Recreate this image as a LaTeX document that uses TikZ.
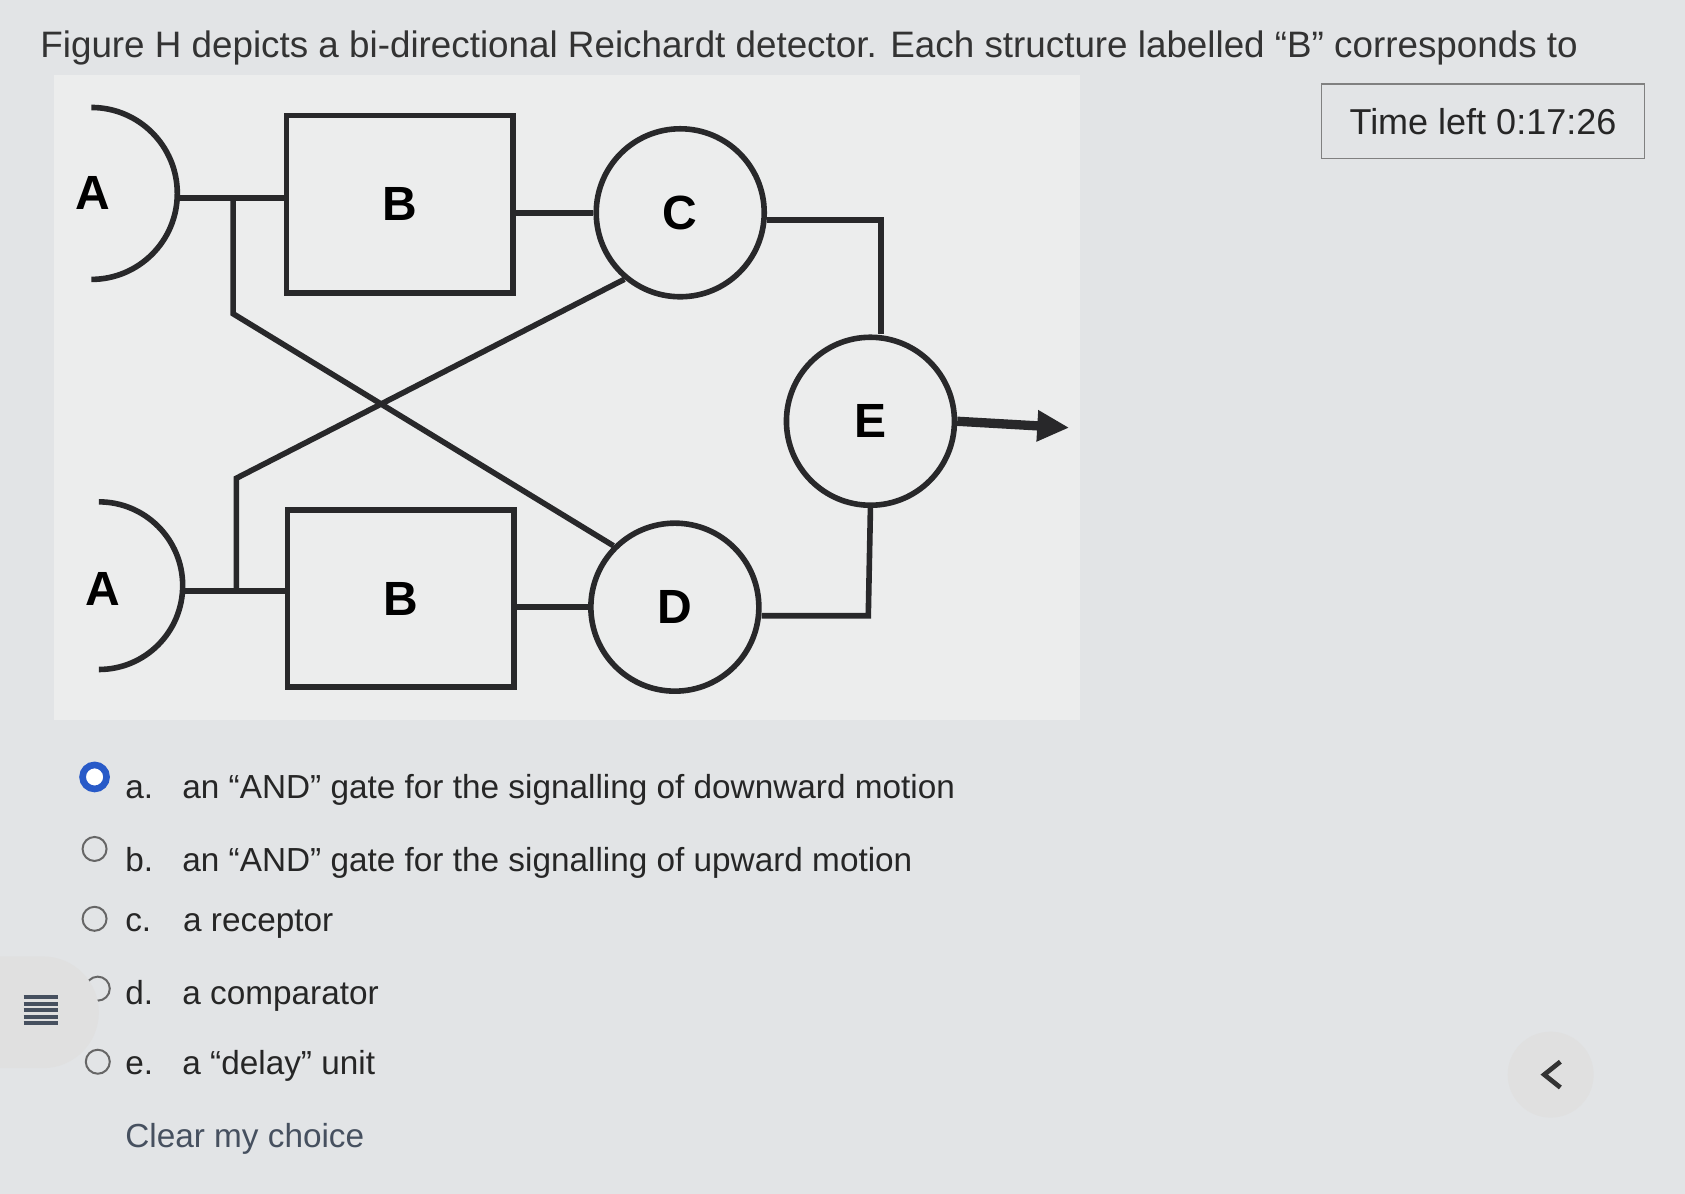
\documentclass[tikz,border=0pt]{standalone}
\usepackage{fontspec}
\setmainfont{Liberation Sans}
\usetikzlibrary{arrows.meta}
\definecolor{pagebg}{RGB}{226,228,230}
\definecolor{figbg}{RGB}{236,237,237}
\definecolor{wire}{RGB}{40,40,42}
\definecolor{radioblue}{RGB}{40,90,200}
\definecolor{linkgrey}{RGB}{70,80,95}
\tikzset{every picture/.style={line width=0.75pt}}
\tikzset{
  wirestyle/.style={draw=wire,line width=4.2pt},
  unitbox/.style={draw=wire,line width=4.2pt,minimum width=170pt,minimum height=133pt,font=\bfseries\fontsize{36}{36}\selectfont},
  unitcirc/.style={draw=wire,line width=4.2pt,circle,minimum size=126pt,font=\bfseries\fontsize{36}{36}\selectfont},
  optlabel/.style={anchor=west,font=\fontsize{25}{25}\selectfont,text=black!85},
  radio/.style={circle,draw=black!60,line width=1.5pt,minimum size=18pt,inner sep=0pt}
}
\begin{document}
\begin{tikzpicture}[x=0.806pt,y=0.806pt,yscale=-1,xscale=1]
\fill[pagebg] (0,0) rectangle (1568,1111);
\useasboundingbox (0,0) rectangle (1568,1111);
\fill[figbg] (50,70) rectangle (1005,670);

% Header text
\node[anchor=west,font=\fontsize{27.6}{27.6}\selectfont,text=black!80] (title) at (33,45) {Figure H depicts a bi-directional Reichardt detector. Each structure labelled “B” corresponds to};
\node[draw=black!50,fill=pagebg,line width=1pt,minimum width=242pt,minimum height=56pt,font=\fontsize{27}{27}\selectfont,text=black!85] (timer) at (1380,113) {Time left 0:17:26};

% Receptors
\draw[wirestyle] (85,100) arc[start angle=-90,end angle=90,radius=80];
\draw[wirestyle] (92,467) arc[start angle=-90,end angle=90,radius=78];
\node[font=\bfseries\fontsize{36}{36}\selectfont] (a1) at (86,180) {A};
\node[font=\bfseries\fontsize{36}{36}\selectfont] (a2) at (96,548) {A};
\coordinate (r1) at (165,184);
\coordinate (r2) at (170,550);

% Units
\node[unitbox] (b1) at (372,190) {B};
\node[unitbox] (b2) at (373,557) {B};
\node[unitcirc] (c) at (633,198) {C};
\node[unitcirc] (d) at (628,565) {D};
\node[unitcirc] (e) at (810,392) {E};

% Wires
\draw[wirestyle] (r1) -- (b1.west|-r1);
\draw[wirestyle] (r2) -- (b2.west|-r2);
\draw[wirestyle] (b1.east|-c) -- (c.west);
\draw[wirestyle] (b2.east|-d) -- (d.west);
\draw[wirestyle] (c.east|-{(0,205)}) -- (820,205) -- (e.north-|{(820,0)});
\draw[wirestyle] (e.south) -- (808,573) -- (d.east|-{(0,573)});
\draw[wirestyle] (217,184) -- (217,292) -- (d.135);
\draw[wirestyle] (220,550) -- (220,445) -- (c.-130);
\draw[wirestyle,line width=7pt,-{Triangle[length=24pt,width=22pt]}] (e.east) -- (995,398);

% Options
\node[radio,fill=white,line width=5pt,draw=radioblue] (o1) at (88,723) {};
\node[radio] (o2) at (88,790) {};
\node[radio] (o3) at (88,855) {};
\node[radio] (o4) at (91,920) {};
\node[radio] (o5) at (91,988) {};
\node[optlabel] (l1) at (112,735) {a.\hspace{22pt}an “AND” gate for the signalling of downward motion};
\node[optlabel] (l2) at (112,803) {b.\hspace{22pt}an “AND” gate for the signalling of upward motion};
\node[optlabel] (l3) at (112,860) {c.\hspace{24pt}a receptor};
\node[optlabel] (l4) at (112,927) {d.\hspace{22pt}a comparator};
\node[optlabel] (l5) at (112,992) {e.\hspace{22pt}a “delay” unit};
\node[optlabel,text=linkgrey] (clear) at (112,1060) {Clear my choice};

% Side icons
\fill[black!12] (0,890) -- (40,890) arc[start angle=-90,end angle=90,radius=52] -- (0,994) -- cycle;
\foreach \yy in {928,934,940,946,952}
  \draw[linkgrey,line width=3pt] (22,\yy) -- (54,\yy);
\fill[black!12] (1443,1000) circle (40);
\draw[black!80,line width=3.5pt] (1452,988) -- (1437,1000) -- (1452,1012);
\end{tikzpicture}
\end{document}
